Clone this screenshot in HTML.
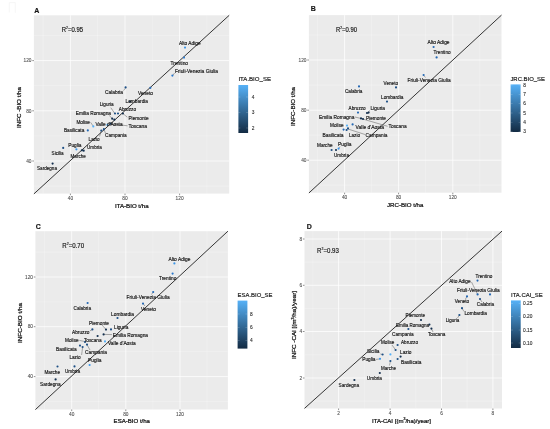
<!DOCTYPE html>
<html><head><meta charset="utf-8"><title>Figure</title>
<style>
html,body{margin:0;padding:0;background:#fff;}
svg{display:block;font-family:"Liberation Sans",sans-serif;}
.t{fill:#151515;stroke:#151515;stroke-width:.16px;}
.ax{fill:#111;stroke:#111;stroke-width:.24px;}
.g{fill:#4d4d4d;stroke:#4d4d4d;stroke-width:.08px;}
.g2{fill:#2a2a2a;stroke:#2a2a2a;stroke-width:.1px;}
</style></head><body>
<svg width="550" height="429" viewBox="0 0 550 429">
<defs><linearGradient id="cb" x1="0" y1="1" x2="0" y2="0"><stop offset="0" stop-color="#132b43"/><stop offset="1" stop-color="#56b1f7"/></linearGradient></defs>
<rect width="550" height="429" fill="#fff"/>
<path d="M9.3 12.5V2.6h6v10.2" fill="none" stroke="#f4f4f4" stroke-width="0.8"/>
<rect x="33.9" y="15.3" width="195.30" height="178.30" fill="#ebebeb"/>
<line x1="43.10" x2="43.10" y1="15.3" y2="193.6" stroke="#fff" stroke-width="0.45" opacity="0.45"/>
<line x1="97.70" x2="97.70" y1="15.3" y2="193.6" stroke="#fff" stroke-width="0.45" opacity="0.45"/>
<line x1="152.30" x2="152.30" y1="15.3" y2="193.6" stroke="#fff" stroke-width="0.45" opacity="0.45"/>
<line x1="206.90" x2="206.90" y1="15.3" y2="193.6" stroke="#fff" stroke-width="0.45" opacity="0.45"/>
<line y1="35.50" y2="35.50" x1="33.9" x2="229.2" stroke="#fff" stroke-width="0.45" opacity="0.45"/>
<line y1="85.70" y2="85.70" x1="33.9" x2="229.2" stroke="#fff" stroke-width="0.45" opacity="0.45"/>
<line y1="135.90" y2="135.90" x1="33.9" x2="229.2" stroke="#fff" stroke-width="0.45" opacity="0.45"/>
<line y1="186.10" y2="186.10" x1="33.9" x2="229.2" stroke="#fff" stroke-width="0.45" opacity="0.45"/>
<line x1="70.40" x2="70.40" y1="15.3" y2="193.6" stroke="#fff" stroke-width="0.75"/>
<line x1="70.40" x2="70.40" y1="193.6" y2="195.2" stroke="#444" stroke-width="0.6"/>
<text x="70.40" y="200.20" font-size="4.8" class="g" text-anchor="middle">40</text>
<line x1="125.00" x2="125.00" y1="15.3" y2="193.6" stroke="#fff" stroke-width="0.75"/>
<line x1="125.00" x2="125.00" y1="193.6" y2="195.2" stroke="#444" stroke-width="0.6"/>
<text x="125.00" y="200.20" font-size="4.8" class="g" text-anchor="middle">80</text>
<line x1="179.60" x2="179.60" y1="15.3" y2="193.6" stroke="#fff" stroke-width="0.75"/>
<line x1="179.60" x2="179.60" y1="193.6" y2="195.2" stroke="#444" stroke-width="0.6"/>
<text x="179.60" y="200.20" font-size="4.8" class="g" text-anchor="middle">120</text>
<line y1="60.60" y2="60.60" x1="33.9" x2="229.2" stroke="#fff" stroke-width="0.75"/>
<line y1="60.60" y2="60.60" x1="32.3" x2="33.9" stroke="#444" stroke-width="0.6"/>
<text x="31.50" y="62.30" font-size="4.8" class="g" text-anchor="end">120</text>
<line y1="110.80" y2="110.80" x1="33.9" x2="229.2" stroke="#fff" stroke-width="0.75"/>
<line y1="110.80" y2="110.80" x1="32.3" x2="33.9" stroke="#444" stroke-width="0.6"/>
<text x="31.50" y="112.50" font-size="4.8" class="g" text-anchor="end">80</text>
<line y1="161.00" y2="161.00" x1="33.9" x2="229.2" stroke="#fff" stroke-width="0.75"/>
<line y1="161.00" y2="161.00" x1="32.3" x2="33.9" stroke="#444" stroke-width="0.6"/>
<text x="31.50" y="162.70" font-size="4.8" class="g" text-anchor="end">40</text>
<line x1="33.9" y1="193.9" x2="229.2" y2="15.3" stroke="#303030" stroke-width="0.98"/>
<line x1="172.8" y1="75.4" x2="174.6" y2="73" stroke="#333" stroke-width="0.4"/>
<line x1="123.6" y1="90.6" x2="125.3" y2="88.2" stroke="#333" stroke-width="0.4"/>
<line x1="110.8" y1="107.7" x2="114.6" y2="113.2" stroke="#333" stroke-width="0.4"/>
<line x1="109.2" y1="115.5" x2="112.1" y2="118.4" stroke="#333" stroke-width="0.4"/>
<line x1="123.2" y1="113.8" x2="127.3" y2="117.2" stroke="#333" stroke-width="0.4"/>
<line x1="111" y1="123.8" x2="127.6" y2="125.8" stroke="#333" stroke-width="0.4"/>
<line x1="90.6" y1="122.3" x2="93" y2="125.9" stroke="#333" stroke-width="0.4"/>
<line x1="104" y1="129.6" x2="105.4" y2="133" stroke="#333" stroke-width="0.4"/>
<line x1="101" y1="131.2" x2="99.6" y2="136.5" stroke="#333" stroke-width="0.4"/>
<circle cx="52.6" cy="163.6" r="1.08" fill="#14304f"/>
<circle cx="63.2" cy="147.9" r="1.08" fill="#1d4f85"/>
<circle cx="76.4" cy="149.3" r="1.08" fill="#3c96e8"/>
<circle cx="81.9" cy="150.3" r="1.08" fill="#14304f"/>
<circle cx="83.7" cy="150.7" r="1.08" fill="#14304f"/>
<circle cx="87.8" cy="130.4" r="1.08" fill="#2468b4"/>
<circle cx="93.3" cy="126.4" r="1.08" fill="#55b0f7"/>
<circle cx="101.3" cy="130.6" r="1.08" fill="#1d4f85"/>
<circle cx="103.9" cy="129.2" r="1.08" fill="#1d4f85"/>
<circle cx="107.4" cy="124.9" r="1.08" fill="#55b0f7"/>
<circle cx="110.5" cy="123.7" r="1.08" fill="#14304f"/>
<circle cx="112.2" cy="118.7" r="1.08" fill="#14304f"/>
<circle cx="114.3" cy="119.7" r="1.08" fill="#14304f"/>
<circle cx="115" cy="113.5" r="1.08" fill="#1d4f85"/>
<circle cx="118" cy="113.5" r="1.08" fill="#1d4f85"/>
<circle cx="122.9" cy="113.5" r="1.08" fill="#14304f"/>
<circle cx="130" cy="101.6" r="1.08" fill="#14304f"/>
<circle cx="125.6" cy="87.4" r="1.08" fill="#1d4f85"/>
<circle cx="150.4" cy="87.8" r="1.08" fill="#2468b4"/>
<circle cx="172.4" cy="75.6" r="1.08" fill="#2a78cc"/>
<circle cx="184" cy="57.6" r="1.08" fill="#2a78cc"/>
<circle cx="185" cy="47.6" r="1.08" fill="#3c96e8"/>
<text x="37" y="170.30" font-size="5" class="t" textLength="20.0" lengthAdjust="spacingAndGlyphs">Sardegna</text>
<text x="51.6" y="154.50" font-size="5" class="t" textLength="12.0" lengthAdjust="spacingAndGlyphs">Sicilia</text>
<text x="68.2" y="146.50" font-size="5" class="t" textLength="13.3" lengthAdjust="spacingAndGlyphs">Puglia</text>
<text x="87" y="148.70" font-size="5" class="t" textLength="14.8" lengthAdjust="spacingAndGlyphs">Umbria</text>
<text x="70.6" y="157.70" font-size="5" class="t" textLength="15.1" lengthAdjust="spacingAndGlyphs">Marche</text>
<text x="63.9" y="131.70" font-size="5" class="t" textLength="20.4" lengthAdjust="spacingAndGlyphs">Basilicata</text>
<text x="76.4" y="123.50" font-size="5" class="t" textLength="13.6" lengthAdjust="spacingAndGlyphs">Molise</text>
<text x="88.6" y="140.50" font-size="5" class="t" textLength="11.1" lengthAdjust="spacingAndGlyphs">Lazio</text>
<text x="105" y="136.80" font-size="5" class="t" textLength="21.7" lengthAdjust="spacingAndGlyphs">Campania</text>
<text x="95.4" y="125.70" font-size="5" class="t" textLength="27.2" lengthAdjust="spacingAndGlyphs">Valle d'Aosta</text>
<text x="128.4" y="128.00" font-size="5" class="t" textLength="18.6" lengthAdjust="spacingAndGlyphs">Toscana</text>
<text x="75.8" y="114.80" font-size="5" class="t" textLength="35.2" lengthAdjust="spacingAndGlyphs">Emilia Romagna</text>
<text x="128.4" y="119.70" font-size="5" class="t" textLength="20.2" lengthAdjust="spacingAndGlyphs">Piemonte</text>
<text x="99.7" y="106.40" font-size="5" class="t" textLength="14.0" lengthAdjust="spacingAndGlyphs">Liguria</text>
<text x="118.8" y="110.80" font-size="5" class="t" textLength="17.2" lengthAdjust="spacingAndGlyphs">Abruzzo</text>
<text x="125.6" y="102.70" font-size="5" class="t" textLength="22.4" lengthAdjust="spacingAndGlyphs">Lombardia</text>
<text x="105" y="94.30" font-size="5" class="t" textLength="18.0" lengthAdjust="spacingAndGlyphs">Calabria</text>
<text x="138" y="94.60" font-size="5" class="t" textLength="15.0" lengthAdjust="spacingAndGlyphs">Veneto</text>
<text x="175" y="73.30" font-size="5" class="t" textLength="43.0" lengthAdjust="spacingAndGlyphs">Friuli-Venezia Giulia</text>
<text x="170.6" y="64.70" font-size="5" class="t" textLength="17.4" lengthAdjust="spacingAndGlyphs">Trentino</text>
<text x="179" y="44.70" font-size="5" class="t" textLength="21.6" lengthAdjust="spacingAndGlyphs">Alto Adige</text>
<text x="34.3" y="12.6" font-size="7" font-weight="bold" class="t">A</text>
<text x="61.8" y="31.7" font-size="6.4" class="t" textLength="21.2" lengthAdjust="spacingAndGlyphs">R<tspan font-size="3.6" dy="-2.6">2</tspan><tspan dy="2.6">=0.95</tspan></text>
<text x="115" y="207.8" font-size="6.1" class="ax" textLength="33.6" lengthAdjust="spacingAndGlyphs">ITA-BIO t/ha</text>
<text transform="translate(21.2,107.5) rotate(-90)" font-size="6.1" class="ax" text-anchor="middle" textLength="41" lengthAdjust="spacingAndGlyphs">INFC -BIO t/ha</text>
<text x="238.4" y="81.1" font-size="6" class="t" textLength="32.6" lengthAdjust="spacingAndGlyphs">ITA.BIO_SE</text>
<rect x="238.4" y="85" width="9.7" height="48" fill="url(#cb)"/>
<text x="251.8" y="98.70" font-size="4.8" class="g2">4</text>
<line x1="238.4" x2="240.4" y1="97" y2="97" stroke="#fff" stroke-width="0.3" opacity="0.6"/>
<line x1="246.1" x2="248.1" y1="97" y2="97" stroke="#fff" stroke-width="0.3" opacity="0.6"/>
<text x="251.8" y="114.10" font-size="4.8" class="g2">3</text>
<line x1="238.4" x2="240.4" y1="112.4" y2="112.4" stroke="#fff" stroke-width="0.3" opacity="0.6"/>
<line x1="246.1" x2="248.1" y1="112.4" y2="112.4" stroke="#fff" stroke-width="0.3" opacity="0.6"/>
<text x="251.8" y="129.70" font-size="4.8" class="g2">2</text>
<line x1="238.4" x2="240.4" y1="128" y2="128" stroke="#fff" stroke-width="0.3" opacity="0.6"/>
<line x1="246.1" x2="248.1" y1="128" y2="128" stroke="#fff" stroke-width="0.3" opacity="0.6"/>
<rect x="308.9" y="15.1" width="192.60" height="177.60" fill="#ebebeb"/>
<line x1="317.60" x2="317.60" y1="15.1" y2="192.7" stroke="#fff" stroke-width="0.45" opacity="0.45"/>
<line x1="371.60" x2="371.60" y1="15.1" y2="192.7" stroke="#fff" stroke-width="0.45" opacity="0.45"/>
<line x1="425.70" x2="425.70" y1="15.1" y2="192.7" stroke="#fff" stroke-width="0.45" opacity="0.45"/>
<line x1="479.80" x2="479.80" y1="15.1" y2="192.7" stroke="#fff" stroke-width="0.45" opacity="0.45"/>
<line y1="35.00" y2="35.00" x1="308.9" x2="501.5" stroke="#fff" stroke-width="0.45" opacity="0.45"/>
<line y1="85.10" y2="85.10" x1="308.9" x2="501.5" stroke="#fff" stroke-width="0.45" opacity="0.45"/>
<line y1="135.20" y2="135.20" x1="308.9" x2="501.5" stroke="#fff" stroke-width="0.45" opacity="0.45"/>
<line y1="185.20" y2="185.20" x1="308.9" x2="501.5" stroke="#fff" stroke-width="0.45" opacity="0.45"/>
<line x1="344.60" x2="344.60" y1="15.1" y2="192.7" stroke="#fff" stroke-width="0.75"/>
<line x1="344.60" x2="344.60" y1="192.7" y2="194.29999999999998" stroke="#444" stroke-width="0.6"/>
<text x="344.60" y="199.30" font-size="4.8" class="g" text-anchor="middle">40</text>
<line x1="398.60" x2="398.60" y1="15.1" y2="192.7" stroke="#fff" stroke-width="0.75"/>
<line x1="398.60" x2="398.60" y1="192.7" y2="194.29999999999998" stroke="#444" stroke-width="0.6"/>
<text x="398.60" y="199.30" font-size="4.8" class="g" text-anchor="middle">80</text>
<line x1="452.80" x2="452.80" y1="15.1" y2="192.7" stroke="#fff" stroke-width="0.75"/>
<line x1="452.80" x2="452.80" y1="192.7" y2="194.29999999999998" stroke="#444" stroke-width="0.6"/>
<text x="452.80" y="199.30" font-size="4.8" class="g" text-anchor="middle">120</text>
<line y1="60.00" y2="60.00" x1="308.9" x2="501.5" stroke="#fff" stroke-width="0.75"/>
<line y1="60.00" y2="60.00" x1="307.29999999999995" x2="308.9" stroke="#444" stroke-width="0.6"/>
<text x="306.50" y="61.70" font-size="4.8" class="g" text-anchor="end">120</text>
<line y1="110.20" y2="110.20" x1="308.9" x2="501.5" stroke="#fff" stroke-width="0.75"/>
<line y1="110.20" y2="110.20" x1="307.29999999999995" x2="308.9" stroke="#444" stroke-width="0.6"/>
<text x="306.50" y="111.90" font-size="4.8" class="g" text-anchor="end">80</text>
<line y1="160.20" y2="160.20" x1="308.9" x2="501.5" stroke="#fff" stroke-width="0.75"/>
<line y1="160.20" y2="160.20" x1="307.29999999999995" x2="308.9" stroke="#444" stroke-width="0.6"/>
<text x="306.50" y="161.90" font-size="4.8" class="g" text-anchor="end">40</text>
<line x1="308.9" y1="193.0" x2="501.5" y2="15.1" stroke="#303030" stroke-width="0.98"/>
<line x1="355" y1="117" x2="361" y2="118.5" stroke="#333" stroke-width="0.4"/>
<line x1="362" y1="118.8" x2="387.6" y2="126.3" stroke="#333" stroke-width="0.4"/>
<line x1="348" y1="129" x2="365" y2="134.5" stroke="#333" stroke-width="0.4"/>
<line x1="338.8" y1="148.3" x2="340" y2="146.6" stroke="#333" stroke-width="0.4"/>
<line x1="367.5" y1="112.5" x2="370" y2="110.5" stroke="#333" stroke-width="0.4"/>
<line x1="423.8" y1="75.4" x2="425.5" y2="77.5" stroke="#333" stroke-width="0.4"/>
<circle cx="331.6" cy="150" r="1.08" fill="#1d4f85"/>
<circle cx="336" cy="150" r="1.08" fill="#14304f"/>
<circle cx="338.6" cy="148.6" r="1.08" fill="#3c96e8"/>
<circle cx="343.6" cy="129.6" r="1.08" fill="#2468b4"/>
<circle cx="346.6" cy="130" r="1.08" fill="#1d4f85"/>
<circle cx="348" cy="128.4" r="1.08" fill="#1d4f85"/>
<circle cx="347" cy="125.6" r="1.08" fill="#55b0f7"/>
<circle cx="352.6" cy="124.4" r="1.08" fill="#2468b4"/>
<circle cx="358" cy="112.6" r="1.08" fill="#2468b4"/>
<circle cx="361" cy="118.4" r="1.08" fill="#14304f"/>
<circle cx="363" cy="119" r="1.08" fill="#14304f"/>
<circle cx="367" cy="113" r="1.08" fill="#14304f"/>
<circle cx="368.6" cy="112.6" r="1.08" fill="#14304f"/>
<circle cx="359" cy="86.4" r="1.08" fill="#2468b4"/>
<circle cx="387" cy="101.6" r="1.08" fill="#1d4f85"/>
<circle cx="396" cy="87.4" r="1.08" fill="#1d4f85"/>
<circle cx="423.6" cy="75" r="1.08" fill="#2468b4"/>
<circle cx="436.6" cy="57.4" r="1.08" fill="#2468b4"/>
<circle cx="433.6" cy="47" r="1.08" fill="#2468b4"/>
<text x="317" y="147.30" font-size="5" class="t" textLength="15.6" lengthAdjust="spacingAndGlyphs">Marche</text>
<text x="338" y="145.90" font-size="5" class="t" textLength="13.4" lengthAdjust="spacingAndGlyphs">Puglia</text>
<text x="334" y="156.70" font-size="5" class="t" textLength="15.0" lengthAdjust="spacingAndGlyphs">Umbria</text>
<text x="322.6" y="137.10" font-size="5" class="t" textLength="21.0" lengthAdjust="spacingAndGlyphs">Basilicata</text>
<text x="349" y="137.10" font-size="5" class="t" textLength="11.0" lengthAdjust="spacingAndGlyphs">Lazio</text>
<text x="365.6" y="137.10" font-size="5" class="t" textLength="21.8" lengthAdjust="spacingAndGlyphs">Campania</text>
<text x="330" y="126.70" font-size="5" class="t" textLength="13.6" lengthAdjust="spacingAndGlyphs">Molise</text>
<text x="355.6" y="128.70" font-size="5" class="t" textLength="28.4" lengthAdjust="spacingAndGlyphs">Valle d'Aosta</text>
<text x="388.6" y="128.30" font-size="5" class="t" textLength="18.0" lengthAdjust="spacingAndGlyphs">Toscana</text>
<text x="319" y="118.70" font-size="5" class="t" textLength="35.4" lengthAdjust="spacingAndGlyphs">Emilia Romagna</text>
<text x="366" y="120.10" font-size="5" class="t" textLength="20.0" lengthAdjust="spacingAndGlyphs">Piemonte</text>
<text x="348.6" y="109.70" font-size="5" class="t" textLength="17.0" lengthAdjust="spacingAndGlyphs">Abruzzo</text>
<text x="370.6" y="110.30" font-size="5" class="t" textLength="14.4" lengthAdjust="spacingAndGlyphs">Liguria</text>
<text x="381" y="99.10" font-size="5" class="t" textLength="22.4" lengthAdjust="spacingAndGlyphs">Lombardia</text>
<text x="345" y="93.30" font-size="5" class="t" textLength="17.4" lengthAdjust="spacingAndGlyphs">Calabria</text>
<text x="383.6" y="84.70" font-size="5" class="t" textLength="14.4" lengthAdjust="spacingAndGlyphs">Veneto</text>
<text x="407.6" y="82.10" font-size="5" class="t" textLength="43.0" lengthAdjust="spacingAndGlyphs">Friuli-Venezia Giulia</text>
<text x="433.6" y="54.30" font-size="5" class="t" textLength="17.0" lengthAdjust="spacingAndGlyphs">Trentino</text>
<text x="427.6" y="44.10" font-size="5" class="t" textLength="22.0" lengthAdjust="spacingAndGlyphs">Alto Adige</text>
<text x="310.7" y="10.8" font-size="7" font-weight="bold" class="t">B</text>
<text x="336" y="31.6" font-size="6.4" class="t" textLength="21" lengthAdjust="spacingAndGlyphs">R<tspan font-size="3.6" dy="-2.6">2</tspan><tspan dy="2.6">=0.90</tspan></text>
<text x="387" y="207.2" font-size="6.1" class="ax" textLength="36.4" lengthAdjust="spacingAndGlyphs">JRC-BIO t/ha</text>
<text transform="translate(295.3,106.5) rotate(-90)" font-size="6.1" class="ax" text-anchor="middle" textLength="39" lengthAdjust="spacingAndGlyphs">INFC-BIO t/ha</text>
<text x="510.4" y="81.1" font-size="6" class="t" textLength="34.6" lengthAdjust="spacingAndGlyphs">JRC.BIO_SE</text>
<rect x="510.6" y="84.4" width="10" height="47.6" fill="url(#cb)"/>
<text x="523.3" y="86.70" font-size="4.8" class="g2">8</text>
<line x1="510.6" x2="512.6" y1="85" y2="85" stroke="#fff" stroke-width="0.3" opacity="0.6"/>
<line x1="518.6" x2="520.6" y1="85" y2="85" stroke="#fff" stroke-width="0.3" opacity="0.6"/>
<text x="523.3" y="96.10" font-size="4.8" class="g2">7</text>
<line x1="510.6" x2="512.6" y1="94.4" y2="94.4" stroke="#fff" stroke-width="0.3" opacity="0.6"/>
<line x1="518.6" x2="520.6" y1="94.4" y2="94.4" stroke="#fff" stroke-width="0.3" opacity="0.6"/>
<text x="523.3" y="105.30" font-size="4.8" class="g2">6</text>
<line x1="510.6" x2="512.6" y1="103.6" y2="103.6" stroke="#fff" stroke-width="0.3" opacity="0.6"/>
<line x1="518.6" x2="520.6" y1="103.6" y2="103.6" stroke="#fff" stroke-width="0.3" opacity="0.6"/>
<text x="523.3" y="114.70" font-size="4.8" class="g2">5</text>
<line x1="510.6" x2="512.6" y1="113" y2="113" stroke="#fff" stroke-width="0.3" opacity="0.6"/>
<line x1="518.6" x2="520.6" y1="113" y2="113" stroke="#fff" stroke-width="0.3" opacity="0.6"/>
<text x="523.3" y="123.90" font-size="4.8" class="g2">4</text>
<line x1="510.6" x2="512.6" y1="122.2" y2="122.2" stroke="#fff" stroke-width="0.3" opacity="0.6"/>
<line x1="518.6" x2="520.6" y1="122.2" y2="122.2" stroke="#fff" stroke-width="0.3" opacity="0.6"/>
<text x="523.3" y="133.30" font-size="4.8" class="g2">3</text>
<line x1="510.6" x2="512.6" y1="131.6" y2="131.6" stroke="#fff" stroke-width="0.3" opacity="0.6"/>
<line x1="518.6" x2="520.6" y1="131.6" y2="131.6" stroke="#fff" stroke-width="0.3" opacity="0.6"/>
<rect x="35.4" y="231.2" width="192.50" height="178.30" fill="#ebebeb"/>
<line x1="44.60" x2="44.60" y1="231.2" y2="409.5" stroke="#fff" stroke-width="0.45" opacity="0.45"/>
<line x1="98.70" x2="98.70" y1="231.2" y2="409.5" stroke="#fff" stroke-width="0.45" opacity="0.45"/>
<line x1="152.90" x2="152.90" y1="231.2" y2="409.5" stroke="#fff" stroke-width="0.45" opacity="0.45"/>
<line x1="207.00" x2="207.00" y1="231.2" y2="409.5" stroke="#fff" stroke-width="0.45" opacity="0.45"/>
<line y1="252.10" y2="252.10" x1="35.4" x2="227.9" stroke="#fff" stroke-width="0.45" opacity="0.45"/>
<line y1="301.90" y2="301.90" x1="35.4" x2="227.9" stroke="#fff" stroke-width="0.45" opacity="0.45"/>
<line y1="351.70" y2="351.70" x1="35.4" x2="227.9" stroke="#fff" stroke-width="0.45" opacity="0.45"/>
<line y1="401.50" y2="401.50" x1="35.4" x2="227.9" stroke="#fff" stroke-width="0.45" opacity="0.45"/>
<line x1="71.70" x2="71.70" y1="231.2" y2="409.5" stroke="#fff" stroke-width="0.75"/>
<line x1="71.70" x2="71.70" y1="409.5" y2="411.1" stroke="#444" stroke-width="0.6"/>
<text x="71.70" y="416.10" font-size="4.8" class="g" text-anchor="middle">40</text>
<line x1="125.80" x2="125.80" y1="231.2" y2="409.5" stroke="#fff" stroke-width="0.75"/>
<line x1="125.80" x2="125.80" y1="409.5" y2="411.1" stroke="#444" stroke-width="0.6"/>
<text x="125.80" y="416.10" font-size="4.8" class="g" text-anchor="middle">80</text>
<line x1="180.00" x2="180.00" y1="231.2" y2="409.5" stroke="#fff" stroke-width="0.75"/>
<line x1="180.00" x2="180.00" y1="409.5" y2="411.1" stroke="#444" stroke-width="0.6"/>
<text x="180.00" y="416.10" font-size="4.8" class="g" text-anchor="middle">120</text>
<line y1="277.00" y2="277.00" x1="35.4" x2="227.9" stroke="#fff" stroke-width="0.75"/>
<line y1="277.00" y2="277.00" x1="33.8" x2="35.4" stroke="#444" stroke-width="0.6"/>
<text x="33.00" y="278.70" font-size="4.8" class="g" text-anchor="end">120</text>
<line y1="326.70" y2="326.70" x1="35.4" x2="227.9" stroke="#fff" stroke-width="0.75"/>
<line y1="326.70" y2="326.70" x1="33.8" x2="35.4" stroke="#444" stroke-width="0.6"/>
<text x="33.00" y="328.40" font-size="4.8" class="g" text-anchor="end">80</text>
<line y1="376.60" y2="376.60" x1="35.4" x2="227.9" stroke="#fff" stroke-width="0.75"/>
<line y1="376.60" y2="376.60" x1="33.8" x2="35.4" stroke="#444" stroke-width="0.6"/>
<text x="33.00" y="378.30" font-size="4.8" class="g" text-anchor="end">40</text>
<line x1="35.4" y1="409.6" x2="227.9" y2="231.2" stroke="#303030" stroke-width="0.98"/>
<line x1="102" y1="325" x2="106" y2="329.5" stroke="#333" stroke-width="0.4"/>
<line x1="104" y1="334.4" x2="112" y2="334.6" stroke="#333" stroke-width="0.4"/>
<line x1="79.4" y1="340.4" x2="84.5" y2="341.5" stroke="#333" stroke-width="0.4"/>
<line x1="87" y1="344.8" x2="90" y2="350" stroke="#333" stroke-width="0.4"/>
<line x1="82.6" y1="347.3" x2="81.6" y2="355" stroke="#333" stroke-width="0.4"/>
<line x1="90" y1="330.8" x2="92.2" y2="329.6" stroke="#333" stroke-width="0.4"/>
<line x1="151.5" y1="294.5" x2="153" y2="292.3" stroke="#333" stroke-width="0.4"/>
<line x1="143.2" y1="303.8" x2="145" y2="306" stroke="#333" stroke-width="0.4"/>
<circle cx="55.6" cy="379.4" r="1.08" fill="#14304f"/>
<circle cx="57.5" cy="366.5" r="1.08" fill="#1d4f85"/>
<circle cx="74.5" cy="366.4" r="1.08" fill="#1d4f85"/>
<circle cx="89.6" cy="365" r="1.08" fill="#3c96e8"/>
<circle cx="80" cy="345.6" r="1.08" fill="#1d4f85"/>
<circle cx="82.6" cy="347" r="1.08" fill="#1d4f85"/>
<circle cx="87" cy="344.6" r="1.08" fill="#1d4f85"/>
<circle cx="85" cy="342" r="1.08" fill="#1d4f85"/>
<circle cx="105" cy="341.4" r="1.08" fill="#55b0f7"/>
<circle cx="97.6" cy="336" r="1.08" fill="#14304f"/>
<circle cx="103.6" cy="334.4" r="1.08" fill="#14304f"/>
<circle cx="92.4" cy="329.4" r="1.08" fill="#1d4f85"/>
<circle cx="106" cy="329.6" r="1.08" fill="#14304f"/>
<circle cx="111" cy="329.4" r="1.08" fill="#1d4f85"/>
<circle cx="117.5" cy="318" r="1.08" fill="#1d4f85"/>
<circle cx="87.6" cy="303" r="1.08" fill="#2468b4"/>
<circle cx="143" cy="303.6" r="1.08" fill="#2468b4"/>
<circle cx="153.2" cy="292" r="1.08" fill="#2468b4"/>
<circle cx="172.6" cy="273.6" r="1.08" fill="#2a78cc"/>
<circle cx="174.4" cy="263.4" r="1.08" fill="#3c96e8"/>
<text x="40" y="386.30" font-size="5" class="t" textLength="20.6" lengthAdjust="spacingAndGlyphs">Sardegna</text>
<text x="44.4" y="373.70" font-size="5" class="t" textLength="15.6" lengthAdjust="spacingAndGlyphs">Marche</text>
<text x="65" y="373.30" font-size="5" class="t" textLength="15.0" lengthAdjust="spacingAndGlyphs">Umbria</text>
<text x="88" y="362.20" font-size="5" class="t" textLength="13.4" lengthAdjust="spacingAndGlyphs">Puglia</text>
<text x="69.4" y="359.10" font-size="5" class="t" textLength="11.2" lengthAdjust="spacingAndGlyphs">Lazio</text>
<text x="56" y="350.70" font-size="5" class="t" textLength="20.6" lengthAdjust="spacingAndGlyphs">Basilicata</text>
<text x="85" y="353.70" font-size="5" class="t" textLength="22.0" lengthAdjust="spacingAndGlyphs">Campania</text>
<text x="65" y="342.10" font-size="5" class="t" textLength="13.6" lengthAdjust="spacingAndGlyphs">Molise</text>
<text x="84" y="342.10" font-size="5" class="t" textLength="17.6" lengthAdjust="spacingAndGlyphs">Toscana</text>
<text x="108" y="345.30" font-size="5" class="t" textLength="27.8" lengthAdjust="spacingAndGlyphs">Valle d'Aosta</text>
<text x="112.8" y="336.70" font-size="5" class="t" textLength="35.2" lengthAdjust="spacingAndGlyphs">Emilia Romagna</text>
<text x="72" y="333.70" font-size="5" class="t" textLength="17.4" lengthAdjust="spacingAndGlyphs">Abruzzo</text>
<text x="89" y="324.70" font-size="5" class="t" textLength="20.0" lengthAdjust="spacingAndGlyphs">Piemonte</text>
<text x="114" y="328.70" font-size="5" class="t" textLength="14.3" lengthAdjust="spacingAndGlyphs">Liguria</text>
<text x="111" y="315.50" font-size="5" class="t" textLength="23.0" lengthAdjust="spacingAndGlyphs">Lombardia</text>
<text x="73.6" y="310.10" font-size="5" class="t" textLength="17.4" lengthAdjust="spacingAndGlyphs">Calabria</text>
<text x="141" y="310.50" font-size="5" class="t" textLength="15.0" lengthAdjust="spacingAndGlyphs">Veneto</text>
<text x="126.6" y="298.90" font-size="5" class="t" textLength="43.0" lengthAdjust="spacingAndGlyphs">Friuli-Venezia Giulia</text>
<text x="159" y="280.30" font-size="5" class="t" textLength="17.4" lengthAdjust="spacingAndGlyphs">Trentino</text>
<text x="168.4" y="260.70" font-size="5" class="t" textLength="22.0" lengthAdjust="spacingAndGlyphs">Alto Adige</text>
<text x="35.8" y="228.9" font-size="7" font-weight="bold" class="t">C</text>
<text x="62.3" y="247.9" font-size="6.4" class="t" textLength="21.8" lengthAdjust="spacingAndGlyphs">R<tspan font-size="3.6" dy="-2.6">2</tspan><tspan dy="2.6">=0.70</tspan></text>
<text x="113.6" y="423.2" font-size="6.1" class="ax" textLength="36.4" lengthAdjust="spacingAndGlyphs">ESA-BIO t/ha</text>
<text transform="translate(22.4,323) rotate(-90)" font-size="6.1" class="ax" text-anchor="middle" textLength="40" lengthAdjust="spacingAndGlyphs">INFC-BIO t/ha</text>
<text x="237.6" y="297.1" font-size="6" class="t" textLength="34.8" lengthAdjust="spacingAndGlyphs">ESA.BIO_SE</text>
<rect x="237.6" y="300.6" width="9.8" height="48" fill="url(#cb)"/>
<text x="250" y="315.70" font-size="4.8" class="g2">8</text>
<line x1="237.6" x2="239.6" y1="314" y2="314" stroke="#fff" stroke-width="0.3" opacity="0.6"/>
<line x1="245.4" x2="247.4" y1="314" y2="314" stroke="#fff" stroke-width="0.3" opacity="0.6"/>
<text x="250" y="329.10" font-size="4.8" class="g2">6</text>
<line x1="237.6" x2="239.6" y1="327.4" y2="327.4" stroke="#fff" stroke-width="0.3" opacity="0.6"/>
<line x1="245.4" x2="247.4" y1="327.4" y2="327.4" stroke="#fff" stroke-width="0.3" opacity="0.6"/>
<text x="250" y="342.30" font-size="4.8" class="g2">4</text>
<line x1="237.6" x2="239.6" y1="340.6" y2="340.6" stroke="#fff" stroke-width="0.3" opacity="0.6"/>
<line x1="245.4" x2="247.4" y1="340.6" y2="340.6" stroke="#fff" stroke-width="0.3" opacity="0.6"/>
<rect x="304.5" y="231.1" width="197.50" height="177.40" fill="#ebebeb"/>
<line x1="312.90" x2="312.90" y1="231.1" y2="408.5" stroke="#fff" stroke-width="0.45" opacity="0.45"/>
<line x1="364.30" x2="364.30" y1="231.1" y2="408.5" stroke="#fff" stroke-width="0.45" opacity="0.45"/>
<line x1="415.80" x2="415.80" y1="231.1" y2="408.5" stroke="#fff" stroke-width="0.45" opacity="0.45"/>
<line x1="467.20" x2="467.20" y1="231.1" y2="408.5" stroke="#fff" stroke-width="0.45" opacity="0.45"/>
<line y1="262.10" y2="262.10" x1="304.5" x2="502" stroke="#fff" stroke-width="0.45" opacity="0.45"/>
<line y1="308.40" y2="308.40" x1="304.5" x2="502" stroke="#fff" stroke-width="0.45" opacity="0.45"/>
<line y1="354.80" y2="354.80" x1="304.5" x2="502" stroke="#fff" stroke-width="0.45" opacity="0.45"/>
<line y1="401.10" y2="401.10" x1="304.5" x2="502" stroke="#fff" stroke-width="0.45" opacity="0.45"/>
<line x1="338.60" x2="338.60" y1="231.1" y2="408.5" stroke="#fff" stroke-width="0.75"/>
<line x1="338.60" x2="338.60" y1="408.5" y2="410.1" stroke="#444" stroke-width="0.6"/>
<text x="338.60" y="415.10" font-size="4.8" class="g" text-anchor="middle">2</text>
<line x1="390.10" x2="390.10" y1="231.1" y2="408.5" stroke="#fff" stroke-width="0.75"/>
<line x1="390.10" x2="390.10" y1="408.5" y2="410.1" stroke="#444" stroke-width="0.6"/>
<text x="390.10" y="415.10" font-size="4.8" class="g" text-anchor="middle">4</text>
<line x1="441.50" x2="441.50" y1="231.1" y2="408.5" stroke="#fff" stroke-width="0.75"/>
<line x1="441.50" x2="441.50" y1="408.5" y2="410.1" stroke="#444" stroke-width="0.6"/>
<text x="441.50" y="415.10" font-size="4.8" class="g" text-anchor="middle">6</text>
<line x1="492.90" x2="492.90" y1="231.1" y2="408.5" stroke="#fff" stroke-width="0.75"/>
<line x1="492.90" x2="492.90" y1="408.5" y2="410.1" stroke="#444" stroke-width="0.6"/>
<text x="492.90" y="415.10" font-size="4.8" class="g" text-anchor="middle">8</text>
<line y1="239.00" y2="239.00" x1="304.5" x2="502" stroke="#fff" stroke-width="0.75"/>
<line y1="239.00" y2="239.00" x1="302.9" x2="304.5" stroke="#444" stroke-width="0.6"/>
<text x="302.10" y="240.70" font-size="4.8" class="g" text-anchor="end">8</text>
<line y1="285.30" y2="285.30" x1="304.5" x2="502" stroke="#fff" stroke-width="0.75"/>
<line y1="285.30" y2="285.30" x1="302.9" x2="304.5" stroke="#444" stroke-width="0.6"/>
<text x="302.10" y="287.00" font-size="4.8" class="g" text-anchor="end">6</text>
<line y1="331.50" y2="331.50" x1="304.5" x2="502" stroke="#fff" stroke-width="0.75"/>
<line y1="331.50" y2="331.50" x1="302.9" x2="304.5" stroke="#444" stroke-width="0.6"/>
<text x="302.10" y="333.20" font-size="4.8" class="g" text-anchor="end">4</text>
<line y1="378.00" y2="378.00" x1="304.5" x2="502" stroke="#fff" stroke-width="0.75"/>
<line y1="378.00" y2="378.00" x1="302.9" x2="304.5" stroke="#444" stroke-width="0.6"/>
<text x="302.10" y="379.70" font-size="4.8" class="g" text-anchor="end">2</text>
<line x1="304.5" y1="408.4" x2="502" y2="231.1" stroke="#303030" stroke-width="0.98"/>
<line x1="471.5" y1="282" x2="477.5" y2="294.2" stroke="#333" stroke-width="0.4"/>
<line x1="392" y1="345" x2="395.4" y2="349.6" stroke="#333" stroke-width="0.4"/>
<line x1="390.4" y1="361.2" x2="389.5" y2="365.5" stroke="#333" stroke-width="0.4"/>
<line x1="431.6" y1="329" x2="433" y2="332" stroke="#333" stroke-width="0.4"/>
<line x1="376" y1="359.4" x2="379.5" y2="359" stroke="#333" stroke-width="0.4"/>
<line x1="380.3" y1="354" x2="382.4" y2="354.5" stroke="#333" stroke-width="0.4"/>
<line x1="462.2" y1="308.6" x2="464" y2="311.5" stroke="#333" stroke-width="0.4"/>
<line x1="459.2" y1="315.4" x2="457.5" y2="318" stroke="#333" stroke-width="0.4"/>
<line x1="480.2" y1="299.3" x2="482" y2="302" stroke="#333" stroke-width="0.4"/>
<line x1="466.8" y1="296.8" x2="465.5" y2="299" stroke="#333" stroke-width="0.4"/>
<circle cx="354.4" cy="380" r="1.08" fill="#14304f"/>
<circle cx="379.8" cy="373" r="1.08" fill="#14304f"/>
<circle cx="380" cy="358.8" r="1.08" fill="#3c96e8"/>
<circle cx="382.6" cy="354.5" r="1.08" fill="#1d4f85"/>
<circle cx="390.4" cy="354.4" r="1.08" fill="#55b0f7"/>
<circle cx="390.4" cy="361" r="1.08" fill="#1d4f85"/>
<circle cx="395.6" cy="350" r="1.08" fill="#1d4f85"/>
<circle cx="397.6" cy="345" r="1.08" fill="#1d4f85"/>
<circle cx="400.6" cy="356.6" r="1.08" fill="#14304f"/>
<circle cx="397.6" cy="359" r="1.08" fill="#1d4f85"/>
<circle cx="408.4" cy="329" r="1.08" fill="#1d4f85"/>
<circle cx="421" cy="320" r="1.08" fill="#14304f"/>
<circle cx="429.4" cy="324.6" r="1.08" fill="#14304f"/>
<circle cx="431.4" cy="328.6" r="1.08" fill="#14304f"/>
<circle cx="459.4" cy="315" r="1.08" fill="#1d4f85"/>
<circle cx="462" cy="308.2" r="1.08" fill="#1d4f85"/>
<circle cx="467" cy="296.4" r="1.08" fill="#2468b4"/>
<circle cx="480" cy="299" r="1.08" fill="#1d4f85"/>
<circle cx="477.6" cy="294.4" r="1.08" fill="#2468b4"/>
<circle cx="490" cy="294.4" r="1.08" fill="#2468b4"/>
<circle cx="477.5" cy="280.6" r="1.08" fill="#2468b4"/>
<text x="338.6" y="387.10" font-size="5" class="t" textLength="20.4" lengthAdjust="spacingAndGlyphs">Sardegna</text>
<text x="366.8" y="380.30" font-size="5" class="t" textLength="15.2" lengthAdjust="spacingAndGlyphs">Umbria</text>
<text x="381" y="369.70" font-size="5" class="t" textLength="15.0" lengthAdjust="spacingAndGlyphs">Marche</text>
<text x="362.2" y="361.30" font-size="5" class="t" textLength="13.3" lengthAdjust="spacingAndGlyphs">Puglia</text>
<text x="367" y="352.90" font-size="5" class="t" textLength="12.4" lengthAdjust="spacingAndGlyphs">Sicilia</text>
<text x="401" y="363.90" font-size="5" class="t" textLength="20.4" lengthAdjust="spacingAndGlyphs">Basilicata</text>
<text x="400" y="354.10" font-size="5" class="t" textLength="11.4" lengthAdjust="spacingAndGlyphs">Lazio</text>
<text x="381" y="344.30" font-size="5" class="t" textLength="13.4" lengthAdjust="spacingAndGlyphs">Molise</text>
<text x="401" y="344.30" font-size="5" class="t" textLength="17.0" lengthAdjust="spacingAndGlyphs">Abruzzo</text>
<text x="392" y="336.10" font-size="5" class="t" textLength="21.6" lengthAdjust="spacingAndGlyphs">Campania</text>
<text x="428" y="336.10" font-size="5" class="t" textLength="17.4" lengthAdjust="spacingAndGlyphs">Toscana</text>
<text x="396" y="326.70" font-size="5" class="t" textLength="33.0" lengthAdjust="spacingAndGlyphs">Emilia Romagna</text>
<text x="405.6" y="317.10" font-size="5" class="t" textLength="19.4" lengthAdjust="spacingAndGlyphs">Piemonte</text>
<text x="445.8" y="322.20" font-size="5" class="t" textLength="13.6" lengthAdjust="spacingAndGlyphs">Liguria</text>
<text x="464.4" y="315.10" font-size="5" class="t" textLength="22.6" lengthAdjust="spacingAndGlyphs">Lombardia</text>
<text x="454.8" y="303.30" font-size="5" class="t" textLength="14.4" lengthAdjust="spacingAndGlyphs">Veneto</text>
<text x="476.8" y="306.10" font-size="5" class="t" textLength="17.2" lengthAdjust="spacingAndGlyphs">Calabria</text>
<text x="457" y="291.70" font-size="5" class="t" textLength="42.6" lengthAdjust="spacingAndGlyphs">Friuli-Venezia Giulia</text>
<text x="449.2" y="283.30" font-size="5" class="t" textLength="21.4" lengthAdjust="spacingAndGlyphs">Alto Adige</text>
<text x="475.6" y="277.70" font-size="5" class="t" textLength="16.8" lengthAdjust="spacingAndGlyphs">Trentino</text>
<text x="306.8" y="229.3" font-size="7" font-weight="bold" class="t">D</text>
<text x="317.1" y="252.7" font-size="6.4" class="t" textLength="21.8" lengthAdjust="spacingAndGlyphs">R<tspan font-size="3.6" dy="-2.6">2</tspan><tspan dy="2.6">=0.93</tspan></text>
<text x="372" y="422.8" font-size="6.1" class="ax" textLength="59" lengthAdjust="spacingAndGlyphs">ITA-CAI [(m<tspan font-size="3.6" dy="-2.4">3</tspan><tspan dy="2.4">/ha)/year]</tspan></text>
<text transform="translate(296.4,325) rotate(-90)" font-size="6.1" class="ax" text-anchor="middle" textLength="68" lengthAdjust="spacingAndGlyphs">INFC -CAI [(m<tspan font-size="3.6" dy="-2.4">3</tspan><tspan dy="2.4">/ha)/year]</tspan></text>
<text x="511" y="296.7" font-size="6" class="t" textLength="31.6" lengthAdjust="spacingAndGlyphs">ITA.CAI_SE</text>
<rect x="511" y="300.4" width="9.7" height="47.6" fill="url(#cb)"/>
<text x="523" y="305.30" font-size="4.8" class="g2">0.25</text>
<line x1="511" x2="513" y1="303.6" y2="303.6" stroke="#fff" stroke-width="0.3" opacity="0.6"/>
<line x1="518.7" x2="520.7" y1="303.6" y2="303.6" stroke="#fff" stroke-width="0.3" opacity="0.6"/>
<text x="523" y="318.30" font-size="4.8" class="g2">0.20</text>
<line x1="511" x2="513" y1="316.6" y2="316.6" stroke="#fff" stroke-width="0.3" opacity="0.6"/>
<line x1="518.7" x2="520.7" y1="316.6" y2="316.6" stroke="#fff" stroke-width="0.3" opacity="0.6"/>
<text x="523" y="331.70" font-size="4.8" class="g2">0.15</text>
<line x1="511" x2="513" y1="330" y2="330" stroke="#fff" stroke-width="0.3" opacity="0.6"/>
<line x1="518.7" x2="520.7" y1="330" y2="330" stroke="#fff" stroke-width="0.3" opacity="0.6"/>
<text x="523" y="344.70" font-size="4.8" class="g2">0.10</text>
<line x1="511" x2="513" y1="343" y2="343" stroke="#fff" stroke-width="0.3" opacity="0.6"/>
<line x1="518.7" x2="520.7" y1="343" y2="343" stroke="#fff" stroke-width="0.3" opacity="0.6"/>
</svg>
</body></html>
